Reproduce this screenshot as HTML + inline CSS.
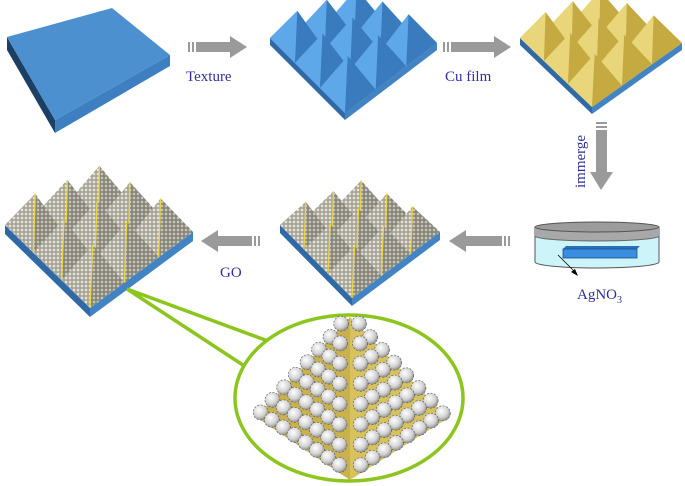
<!DOCTYPE html>
<html><head><meta charset="utf-8"><style>
html,body{margin:0;padding:0;background:#fff;}
svg{display:block}
text{font-family:"Liberation Serif",serif;fill:#30309a;font-size:15px}
</style></head><body>
<svg id="s" width="685" height="486" viewBox="0 0 685 486" xmlns="http://www.w3.org/2000/svg">
<defs>
<pattern id="dots" width="4" height="4" patternUnits="userSpaceOnUse">
<rect width="4" height="4" fill="#9c9680"/>
<circle cx="2" cy="2" r="1.6" fill="#e0e0da" stroke="#7a7a70" stroke-width="0.3"/>
</pattern>
<radialGradient id="sph" cx="0.4" cy="0.35" r="0.7">
<stop offset="0" stop-color="#ffffff"/><stop offset="0.6" stop-color="#d2d2d2"/><stop offset="1" stop-color="#858585"/>
</radialGradient>
</defs>
<polygon points="7,37 7,50 55,133 55,120" fill="#1c3f66"/>
<polygon points="55,120 170,55 170,66 55,133" fill="#3d7fc0"/>
<polygon points="7,37 112,8 170,55 55,120" fill="#4d90d0"/>
<g id="dyn"></g>
<g fill="#9a9a9a">
<rect x="188" y="42" width="2" height="10"/><rect x="192" y="42" width="2" height="10"/><rect x="196" y="42" width="34" height="10"/><polygon points="230,36 247,47 230,58"/>
<rect x="443" y="42" width="2" height="10"/><rect x="447" y="42" width="2" height="10"/><rect x="451" y="42" width="43" height="10"/><polygon points="494,36 511,47 494,58"/>
<rect x="596" y="122" width="11" height="2"/><rect x="596" y="126" width="11" height="2"/><rect x="596" y="130" width="11" height="42"/><polygon points="590,172 601,190 613,172"/>
<rect x="258" y="236" width="2" height="10"/><rect x="254" y="236" width="2" height="10"/><rect x="218" y="236" width="34" height="10"/><polygon points="218,230 201,241 218,252"/>
<rect x="508" y="236" width="2" height="10"/><rect x="504" y="236" width="2" height="10"/><rect x="466" y="236" width="36" height="10"/><polygon points="466,230 449,241 466,252"/>
</g>
<text x="186" y="81">Texture</text>
<text x="445" y="81">Cu film</text>
<text x="220" y="277">GO</text>
<text transform="translate(585,188) rotate(-90)">immerge</text>
<text x="577" y="299">AgNO<tspan font-size="10" dy="4">3</tspan></text>
<path d="M535,227 L535,262 A62,6 0 0 0 659,262 L659,227" fill="#cdf4f8" stroke="#555" stroke-width="1"/>
<path d="M535,227 L535,236 A62,5 0 0 0 659,236 L659,227 Z" fill="#a8a8a8"/>
<ellipse cx="597" cy="227" rx="62" ry="5" fill="#9c9c9c" stroke="#555" stroke-width="1"/>
<path d="M535,236 A62,5 0 0 0 659,236" fill="none" stroke="#666"/>
<polygon points="563,249 566,246 640,246 637,249" fill="#2a6fb8"/>
<rect x="563" y="249" width="74" height="9" fill="#3a8ee0" stroke="#1a4f8a" stroke-width="0.8"/>
<line x1="558" y1="255" x2="576" y2="273" stroke="#000" stroke-width="0.8"/>
<polygon points="578,276 571,272 575,269" fill="#000"/>
<polyline points="268,341 127,289 246,367" fill="none" stroke="#8cc51e" stroke-width="3.5"/>
<ellipse cx="349" cy="398" rx="114" ry="83" fill="#fff" stroke="#8cc51e" stroke-width="3.5"/>
<polygon points="350,317 256,417 350,480" fill="#c9b24e"/>
<polygon points="350,317 448,418 350,480" fill="#d8c25c"/>
<g id="spheres"></g>
</svg>
<script>
var NS="http://www.w3.org/2000/svg",dyn=document.getElementById('dyn');
function el(t,a,p){var e=document.createElementNS(NS,t);for(var k in a)e.setAttribute(k,a[k]);(p||dyn).appendChild(e);return e;}
function pts(a){return a.map(function(p){return p[0].toFixed(1)+','+p[1].toFixed(1)}).join(' ');}
function block(L,R,F,B,th,n,h,c,coated){
 el('polygon',{points:pts([L,F,[F[0],F[1]+th],[L[0],L[1]+th]]),fill:'#2f6aa6'});
 el('polygon',{points:pts([F,R,[R[0],R[1]+th],[F[0],F[1]+th]]),fill:'#4283c4'});
 el('polygon',{points:pts([L,B,R,F]),fill:coated?'url(#dots)':c[0]});
 function P(u,v){return [B[0]*(1-u)*(1-v)+L[0]*u*(1-v)+R[0]*(1-u)*v+F[0]*u*v, B[1]*(1-u)*(1-v)+L[1]*u*(1-v)+R[1]*(1-u)*v+F[1]*u*v];}
 var cells=[];for(var i=0;i<n;i++)for(var j=0;j<n;j++)cells.push([i,j]);
 cells.sort(function(a,b){return (a[0]+a[1])-(b[0]+b[1]);});
 cells.forEach(function(cc){var i=cc[0],j=cc[1];
  var c00=P(i/n,j/n),c10=P((i+1)/n,j/n),c01=P(i/n,(j+1)/n),c11=P((i+1)/n,(j+1)/n);
  var ce=P((i+.5)/n,(j+.5)/n),A=[ce[0],ce[1]-h];
  var faces=[[c00,c10,A,c[1]],[c00,c01,A,c[2]],[c10,c11,A,c[3]],[c11,c01,A,c[4]]];
  faces.forEach(function(f){
   if(coated){el('polygon',{points:pts(f.slice(0,3)),fill:'url(#dots)'});el('polygon',{points:pts(f.slice(0,3)),fill:f[3],opacity:0.12});}
   else el('polygon',{points:pts(f.slice(0,3)),fill:f[3]});
  });
  if(coated){el('line',{x1:A[0],y1:A[1],x2:c11[0],y2:c11[1],stroke:'#ecd445','stroke-width':1.3});}
 });
}
var blue=['#4d90d0','#5aa0e0','#3f80c4','#5ea8ea','#3a7bbd'];
var gold=['#d8c05a','#e6d070','#c8ae42','#ead67a','#c4aa40'];
var ag=['#a09a80','#ffffff','#000000','#ffffff','#000000'];
block([270,38],[437,43],[345,113],[358,12],7,3,34,blue,false);
block([520,38],[682,43],[592,107],[600,12],7,3,32,gold,false);
block([280,225],[440,232],[352,298],[362,200],8,3,30,ag,true);
block([5,225],[193,232],[90,308],[100,190],9,3,38,ag,true);
var sp=document.getElementById('spheres');
var A=[350,317],Lp=[256,417],Rp=[448,418],Fp=[350,480],N=8,list=[];
function face(S,E,side){for(var k=1;k<=N;k++){for(var m=0;m<k;m++){
 var a=(k-0.35)/N, t=(m+0.5)/k;
 var x=A[0]+a*((S[0]-A[0])*(1-t)+(E[0]-A[0])*t), y=A[1]+a*((S[1]-A[1])*(1-t)+(E[1]-A[1])*t);
 list.push([x+side*5,y-4]);}}}
face(Lp,Fp,-1);face(Rp,Fp,1);
list.sort(function(a,b){return a[1]-b[1];});
list.forEach(function(p){el('circle',{cx:p[0],cy:p[1],r:7.5,fill:'url(#sph)',stroke:'#555','stroke-width':0.6,'stroke-dasharray':'2 1.5'},sp);});
</script>
</body></html>
